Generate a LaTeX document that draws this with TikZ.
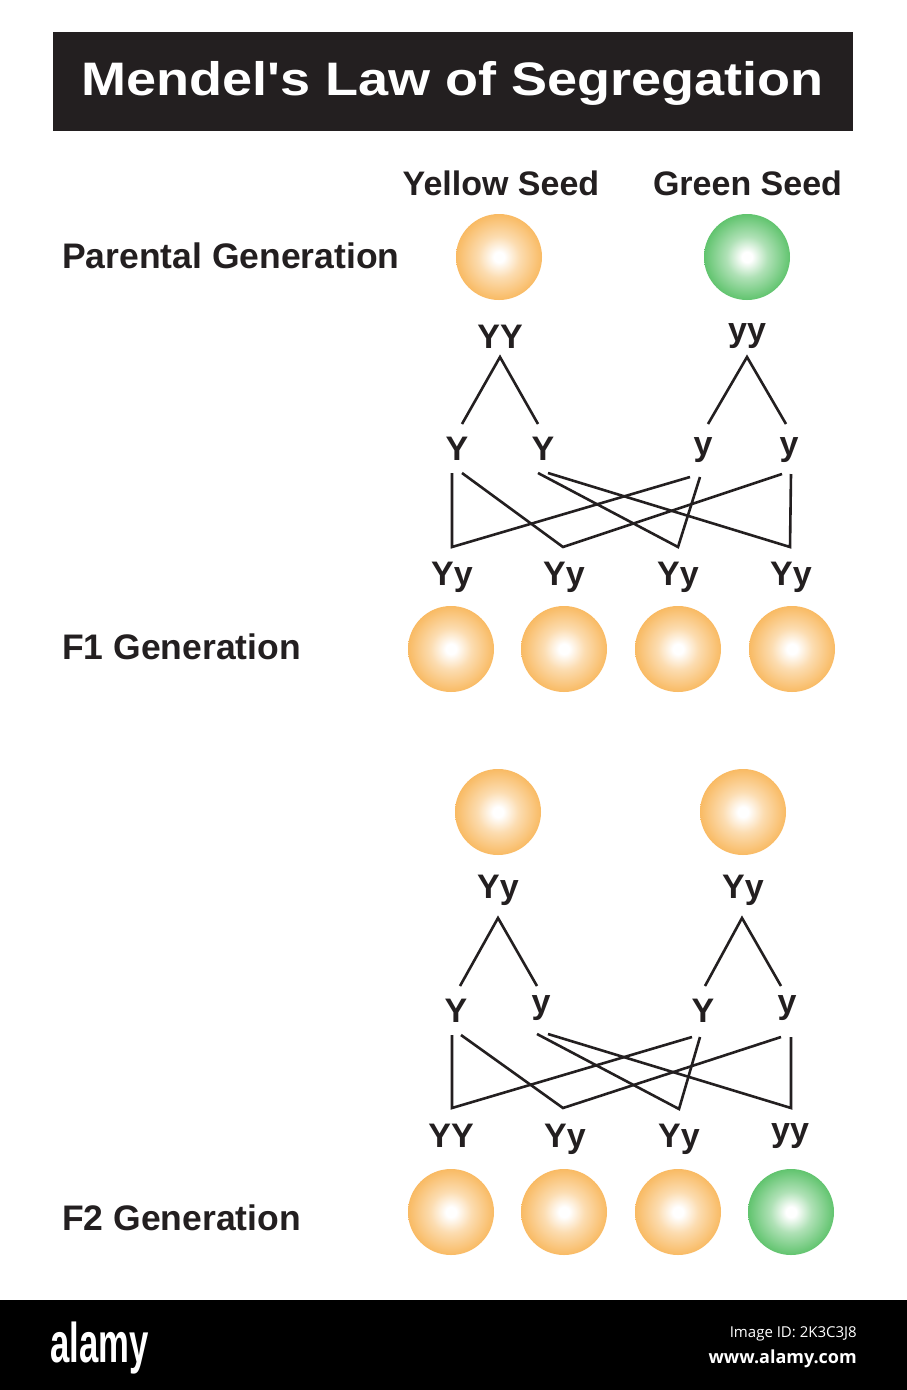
\documentclass[tikz,border=0pt]{standalone}
\usepackage{fontspec}
\setmainfont{Liberation Sans}
\newfontfamily\footfont{Open Sans}
\definecolor{ink}{HTML}{231F20}
\definecolor{ballor}{RGB}{247,168,58}
\definecolor{ballgr}{RGB}{55,180,72}
\pgfdeclareradialshading{orangeball}{\pgfpoint{0bp}{0bp}}{color(0bp)=(white); color(3bp)=(white); color(12bp)=(ballor!40!white); color(26bp)=(ballor!82!white); color(40bp)=(ballor); color(50bp)=(ballor!96!black)}
\pgfdeclareradialshading{greenball}{\pgfpoint{0bp}{0bp}}{color(0bp)=(white); color(3bp)=(white); color(12bp)=(ballgr!40!white); color(26bp)=(ballgr!82!white); color(40bp)=(ballgr); color(50bp)=(ballgr!96!black)}
\tikzset{
  lbl/.style={text=ink, font=\bfseries\fontsize{34}{40}\selectfont, inner sep=0pt},
  gen/.style={lbl, anchor=base},
  rowlbl/.style={lbl, anchor=base west, font=\bfseries\fontsize{35.5}{40}\selectfont},
  yball/.style={circle, minimum size=86pt, inner sep=0pt, shade, shading=orangeball},
  gball/.style={circle, minimum size=86pt, inner sep=0pt, shade, shading=greenball},
  link/.style={draw=ink, line width=2.6pt},
}
\begin{document}
\begin{tikzpicture}[x=1pt,y=-1pt]
\useasboundingbox (0,0) rectangle (907,1390);
\fill[white] (0,0) rectangle (907,1390);
% title
\node[fill=ink, minimum width=800pt, minimum height=99pt, inner sep=0pt, anchor=north west] (titlebar) at (53,32) {};
\node[anchor=base, text=white, inner sep=0pt, font=\bfseries\fontsize{47}{50}\selectfont, xscale=1.15] (title) at (452.5,95) {Mendel\textquotesingle s Law of Segregation};

% headers
\node[gen] (hy) at (501,195) {Yellow Seed};
\node[gen] (hg) at (747.5,195) {Green Seed};
\node[rowlbl] (lp) at (62,268) {Parental Generation};
\node[rowlbl] (lf1) at (62,659) {F1 Generation};
\node[rowlbl] (lf2) at (62,1230) {F2 Generation};

% parental
\node[yball] (p1) at (499,257) {};
\node[gball] (p2) at (747,257) {};
\node[gen] (gp1) at (500,348) {YY};
\node[gen] (gp2) at (747,341) {yy};
\node[gen] (a1) at (457,460) {Y};
\node[gen] (a2) at (543,460) {Y};
\node[gen] (a3) at (703,455) {y};
\node[gen] (a4) at (789,455) {y};

\coordinate (ap1) at (500,357); \coordinate (ap1l) at (462,424); \coordinate (ap1r) at (538,424);
\coordinate (ap2) at (747,357); \coordinate (ap2l) at (708,424); \coordinate (ap2r) at (786,424);
\draw[link] (ap1l) -- (ap1) -- (ap1r);
\draw[link] (ap2l) -- (ap2) -- (ap2r);

\coordinate (u1a) at (452,473); \coordinate (u1b) at (452,547); \coordinate (u1c) at (690,477);
\coordinate (u2a) at (462,473); \coordinate (u2b) at (563,547); \coordinate (u2c) at (782,474);
\coordinate (u3a) at (538,473); \coordinate (u3b) at (678,547); \coordinate (u3c) at (700,477);
\coordinate (u4a) at (548,473); \coordinate (u4b) at (790,547); \coordinate (u4c) at (791,474);
\draw[link] (u1a) -- (u1b) -- (u1c);
\draw[link] (u2a) -- (u2b) -- (u2c);
\draw[link] (u3a) -- (u3b) -- (u3c);
\draw[link] (u4a) -- (u4b) -- (u4c);

\node[gen] (c1) at (452,585) {Yy};
\node[gen] (c2) at (564,585) {Yy};
\node[gen] (c3) at (678,585) {Yy};
\node[gen] (c4) at (791,585) {Yy};
\node[yball] (f1a) at (451,649) {};
\node[yball] (f1b) at (564,649) {};
\node[yball] (f1c) at (678,649) {};
\node[yball] (f1d) at (792,649) {};

% second cross
\node[yball] (q1) at (498,812) {};
\node[yball] (q2) at (743,812) {};
\node[gen] (gq1) at (498,898) {Yy};
\node[gen] (gq2) at (743,898) {Yy};
\node[gen] (b1) at (456,1022) {Y};
\node[gen] (b2) at (541,1013) {y};
\node[gen] (b3) at (703,1022) {Y};
\node[gen] (b4) at (787,1013) {y};

\coordinate (bp1) at (498,918); \coordinate (bp1l) at (460,986); \coordinate (bp1r) at (537,986);
\coordinate (bp2) at (742,918); \coordinate (bp2l) at (705,986); \coordinate (bp2r) at (781,986);
\draw[link] (bp1l) -- (bp1) -- (bp1r);
\draw[link] (bp2l) -- (bp2) -- (bp2r);

\coordinate (v1a) at (452,1035); \coordinate (v1b) at (452,1108); \coordinate (v1c) at (692,1037);
\coordinate (v2a) at (461,1035); \coordinate (v2b) at (563,1108); \coordinate (v2c) at (781,1037);
\coordinate (v3a) at (537,1034); \coordinate (v3b) at (679,1109); \coordinate (v3c) at (700,1037);
\coordinate (v4a) at (548,1034); \coordinate (v4b) at (791,1108); \coordinate (v4c) at (791,1037);
\draw[link] (v1a) -- (v1b) -- (v1c);
\draw[link] (v2a) -- (v2b) -- (v2c);
\draw[link] (v3a) -- (v3b) -- (v3c);
\draw[link] (v4a) -- (v4b) -- (v4c);

\node[gen] (d1) at (451,1147) {YY};
\node[gen] (d2) at (565,1147) {Yy};
\node[gen] (d3) at (679,1147) {Yy};
\node[gen] (d4) at (790,1141) {yy};
\node[yball] (f2a) at (451,1212) {};
\node[yball] (f2b) at (564,1212) {};
\node[yball] (f2c) at (678,1212) {};
\node[gball] (f2d) at (791,1212) {};

% footer
\node[fill=black, minimum width=907pt, minimum height=90pt, inner sep=0pt, anchor=north west] (footer) at (0,1300) {};
\node[anchor=base west, text=white, inner sep=0pt, font=\bfseries\fontsize{56}{56}\selectfont, xscale=0.62] (logo) at (50,1362) {alamy};
\node[anchor=base east, text=white, inner sep=0pt, font=\footfont\fontsize{15}{15}\selectfont] (imgid) at (857,1337) {Image ID: 2K3C3J8};
\node[anchor=base east, text=white, inner sep=0pt, font=\footfont\bfseries\fontsize{18}{18}\selectfont] (www) at (857,1363) {www.alamy.com};
\end{tikzpicture}
\end{document}
